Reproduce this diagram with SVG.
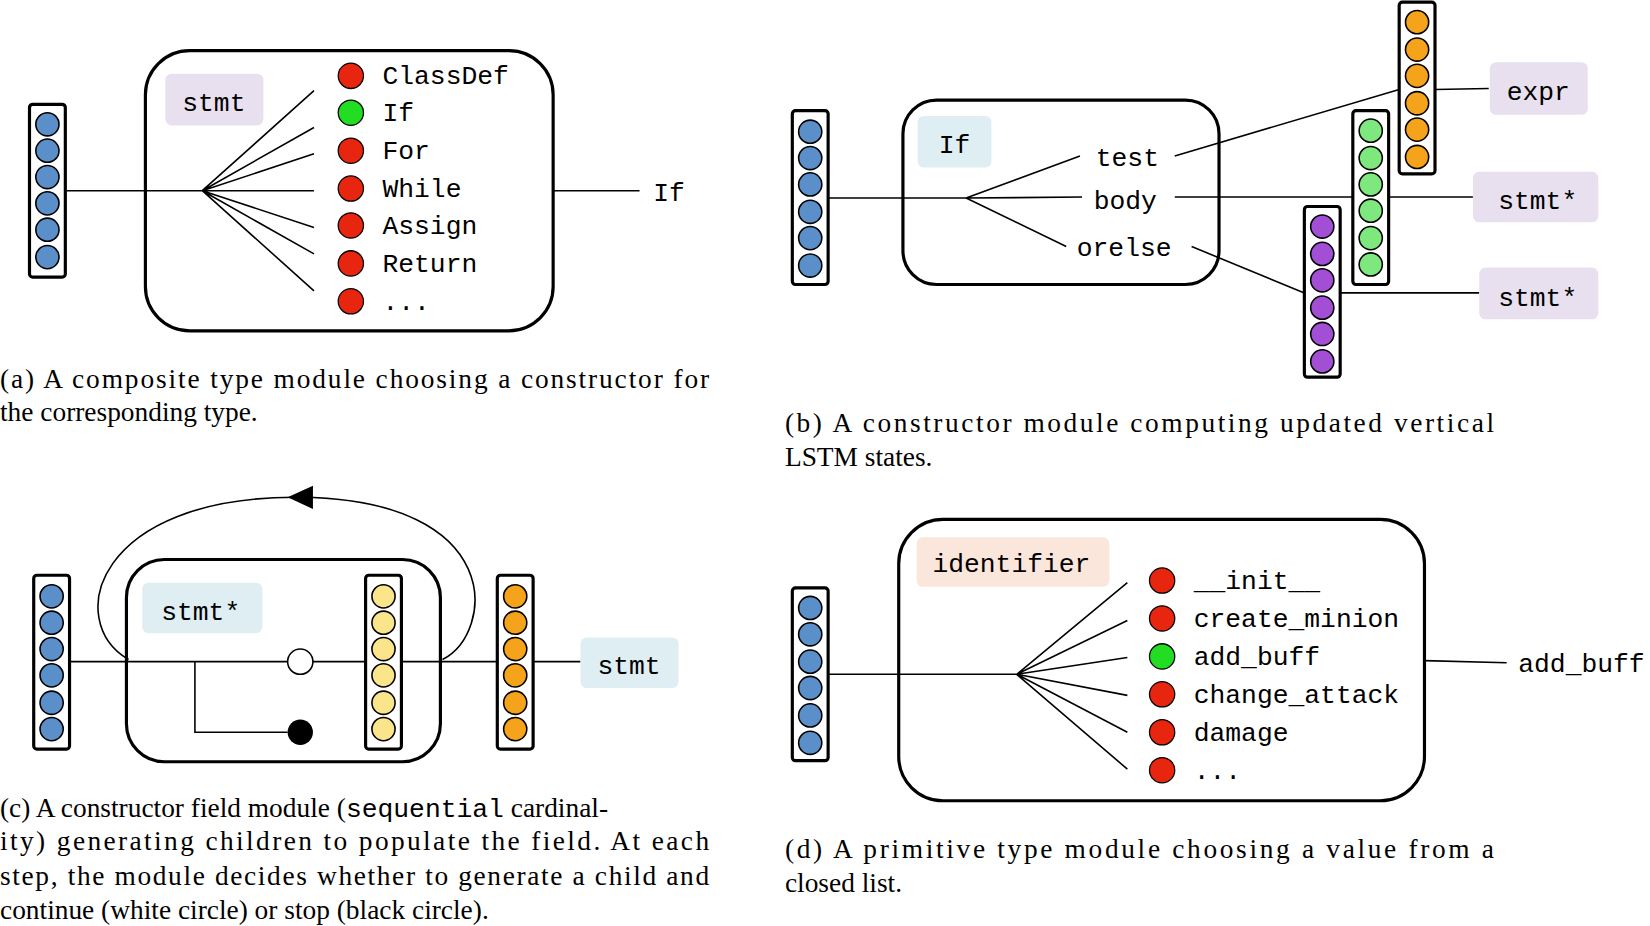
<svg xmlns="http://www.w3.org/2000/svg" width="1650" height="926" viewBox="0 0 1650 926">
<style>
.v{fill:#fff;stroke:#000;stroke-width:3}
.c{stroke:#000;stroke-width:1.5}
.b{fill:#5b8fc9}.o{fill:#f5a31a}.g{fill:#7ee87e}.p{fill:#a24fd6}.y{fill:#fbe58a}
.r{fill:#e8260f;stroke:#000;stroke-width:1.2}.gr{fill:#22dd22;stroke:#000;stroke-width:1.2}
.box{fill:#fff;stroke:#000;stroke-width:3}
.m{font-family:"Liberation Mono",monospace;font-size:25px;fill:#000}
.t{font-family:"Liberation Serif",serif;font-size:26px;fill:#000}
.l{stroke:#000;stroke-width:1.5;fill:none}
</style>
<rect width="1650" height="926" fill="#fff"/>
<g transform="scale(1.0536)">
<g id="panelA">
<rect class="v" x="28" y="99" width="34" height="164" rx="3"/>
<g class="c b"><circle cx="45" cy="118" r="11"/><circle cx="45" cy="143" r="11"/><circle cx="45" cy="168" r="11"/><circle cx="45" cy="193" r="11"/><circle cx="45" cy="218" r="11"/><circle cx="45" cy="244" r="11"/></g>
<rect class="box" x="138" y="48" width="387" height="266" rx="42"/>
<rect x="157" y="70" width="93" height="49" rx="6" fill="#e8e0ee"/>
<text class="m" x="173" y="105">stmt</text>
<path class="l" d="M62,181H192 M192,181L298,86 M192,181L298,121 M192,181L298,146 M192,181L298,181 M192,181L298,216 M192,181L298,241 M192,181L298,276 M525,181H607"/>
<circle class="r" cx="333" cy="72" r="12"/><circle class="gr" cx="333" cy="107" r="12"/><circle class="r" cx="333" cy="143" r="12"/><circle class="r" cx="333" cy="179" r="12"/><circle class="r" cx="333" cy="214" r="12"/><circle class="r" cx="333" cy="250" r="12"/><circle class="r" cx="333" cy="286" r="12"/>
<text class="m" x="363" y="80">ClassDef</text><text class="m" x="363" y="115">If</text><text class="m" x="363" y="151">For</text><text class="m" x="363" y="187">While</text><text class="m" x="363" y="222">Assign</text><text class="m" x="363" y="258">Return</text><text class="m" x="363" y="294">...</text>
<text class="m" x="620" y="191">If</text>
<text class="t" x="0" y="368" textLength="673" lengthAdjust="spacing">(a) A composite type module choosing a constructor for</text>
<text class="t" x="0" y="400">the corresponding type.</text>
</g>
<g id="panelB">
<rect class="v" x="752" y="105" width="34" height="165" rx="3"/>
<g class="c b"><circle cx="769" cy="125" r="11"/><circle cx="769" cy="150" r="11"/><circle cx="769" cy="175" r="11"/><circle cx="769" cy="201" r="11"/><circle cx="769" cy="226" r="11"/><circle cx="769" cy="252" r="11"/></g>
<rect class="box" x="857" y="95" width="300" height="175" rx="32"/>
<rect x="871" y="110" width="70" height="49" rx="6" fill="#dfeef3"/>
<text class="m" x="891" y="145">If</text>
<path class="l" d="M786,188H917 M917,188L1025,148 M917,188L1027,187 M917,188L1012,234 M1115,148L1328,85 M1362,85L1413,84 M1115,187H1284 M1318,187H1398 M1131,234L1238,278 M1272,278H1404"/>
<text class="m" x="1040" y="158">test</text><text class="m" x="1038" y="198">body</text><text class="m" x="1022" y="243">orelse</text>
<rect class="v" x="1328" y="2" width="34" height="163" rx="3"/>
<g class="c o"><circle cx="1345" cy="21" r="11"/><circle cx="1345" cy="47" r="11"/><circle cx="1345" cy="72" r="11"/><circle cx="1345" cy="98" r="11"/><circle cx="1345" cy="123" r="11"/><circle cx="1345" cy="149" r="11"/></g>
<rect class="v" x="1284" y="105" width="34" height="165" rx="3"/>
<g class="c g"><circle cx="1301" cy="124" r="11"/><circle cx="1301" cy="150" r="11"/><circle cx="1301" cy="175" r="11"/><circle cx="1301" cy="200" r="11"/><circle cx="1301" cy="226" r="11"/><circle cx="1301" cy="251" r="11"/></g>
<rect class="v" x="1238" y="196" width="34" height="162" rx="3"/>
<g class="c p"><circle cx="1255" cy="215" r="11"/><circle cx="1255" cy="241" r="11"/><circle cx="1255" cy="266" r="11"/><circle cx="1255" cy="292" r="11"/><circle cx="1255" cy="317" r="11"/><circle cx="1255" cy="343" r="11"/></g>
<rect x="1414" y="59" width="93" height="50" rx="6" fill="#e8e0ee"/><text class="m" x="1430" y="95">expr</text>
<rect x="1398" y="163" width="119" height="48" rx="6" fill="#e8e0ee"/><text class="m" x="1422" y="198">stmt*</text>
<rect x="1404" y="254" width="113" height="49" rx="6" fill="#e8e0ee"/><text class="m" x="1422" y="290">stmt*</text>
<text class="t" x="745" y="410" textLength="673" lengthAdjust="spacing">(b) A constructor module computing updated vertical</text>
<text class="t" x="745" y="442">LSTM states.</text>
</g>
<g id="panelC">
<rect class="v" x="32" y="546" width="34" height="165" rx="3"/>
<g class="c b"><circle cx="49" cy="566" r="11"/><circle cx="49" cy="591" r="11"/><circle cx="49" cy="616" r="11"/><circle cx="49" cy="641" r="11"/><circle cx="49" cy="667" r="11"/><circle cx="49" cy="692" r="11"/></g>
<rect class="box" x="120" y="531" width="298" height="192" rx="36"/>
<rect x="135" y="553" width="114" height="48" rx="6" fill="#dfeef3"/><text class="m" x="153" y="588">stmt*</text>
<path class="l" d="M66,628H273 M297,628H347 M381,628H472 M506,628H551 M185,628V695H273 M122,626C60,590 90,470 285,472C480,474 470,600 420,626"/>
<polygon points="273,472 297,461 297,483" fill="#000"/>
<circle cx="285" cy="628" r="12" fill="#fff" stroke="#000" stroke-width="1.5"/>
<circle cx="285" cy="695" r="12" fill="#000"/>
<rect class="v" x="347" y="546" width="34" height="165" rx="3"/>
<g class="c y"><circle cx="364" cy="566" r="11"/><circle cx="364" cy="591" r="11"/><circle cx="364" cy="616" r="11"/><circle cx="364" cy="641" r="11"/><circle cx="364" cy="667" r="11"/><circle cx="364" cy="692" r="11"/></g>
<rect class="v" x="472" y="546" width="34" height="165" rx="3"/>
<g class="c o"><circle cx="489" cy="566" r="11"/><circle cx="489" cy="591" r="11"/><circle cx="489" cy="616" r="11"/><circle cx="489" cy="641" r="11"/><circle cx="489" cy="667" r="11"/><circle cx="489" cy="692" r="11"/></g>
<rect x="551" y="605" width="93" height="48" rx="6" fill="#dfeef3"/><text class="m" x="567" y="640">stmt</text>
<text class="t" x="0" y="775">(c) A constructor field module (<tspan font-family="Liberation Mono,monospace" font-size="25">sequential</tspan> cardinal-</text>
<text class="t" x="0" y="807" textLength="673" lengthAdjust="spacing">ity) generating children to populate the field.  At each</text>
<text class="t" x="0" y="840" textLength="673" lengthAdjust="spacing">step, the module decides whether to generate a child and</text>
<text class="t" x="0" y="872">continue (white circle) or stop (black circle).</text>
</g>
<g id="panelD">
<rect class="v" x="752" y="558" width="34" height="164" rx="3"/>
<g class="c b"><circle cx="769" cy="577" r="11"/><circle cx="769" cy="602" r="11"/><circle cx="769" cy="628" r="11"/><circle cx="769" cy="653" r="11"/><circle cx="769" cy="679" r="11"/><circle cx="769" cy="705" r="11"/></g>
<rect class="box" x="853" y="493" width="499" height="267" rx="42"/>
<rect x="870" y="510" width="183" height="47" rx="6" fill="#fbe6dc"/><text class="m" x="885" y="543">identifier</text>
<path class="l" d="M786,640H965 M965,640L1070,553 M965,640L1070,589 M965,640L1070,624 M965,640L1070,660 M965,640L1070,695 M965,640L1070,730 M1352,627L1430,629"/>
<circle class="r" cx="1103" cy="551" r="12"/><circle class="r" cx="1103" cy="587" r="12"/><circle class="gr" cx="1103" cy="623" r="12"/><circle class="r" cx="1103" cy="659" r="12"/><circle class="r" cx="1103" cy="695" r="12"/><circle class="r" cx="1103" cy="731" r="12"/>
<text class="m" x="1133" y="559">__init__</text><text class="m" x="1133" y="595">create_minion</text><text class="m" x="1133" y="631">add_buff</text><text class="m" x="1133" y="667">change_attack</text><text class="m" x="1133" y="703">damage</text><text class="m" x="1133" y="739">...</text>
<text class="m" x="1441" y="638">add_buff</text>
<text class="t" x="745" y="814" textLength="673" lengthAdjust="spacing">(d) A primitive type module choosing a value from a</text>
<text class="t" x="745" y="847">closed list.</text>
</g>
</g>
</svg>
